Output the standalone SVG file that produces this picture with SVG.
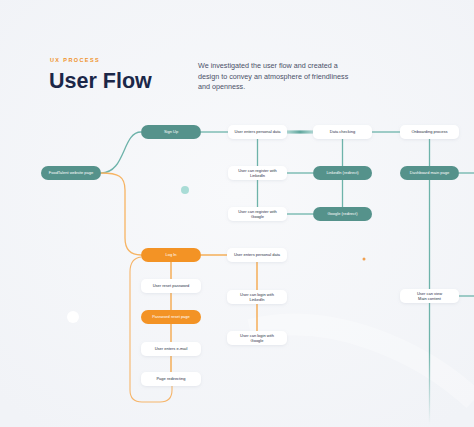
<svg xmlns="http://www.w3.org/2000/svg" width="474" height="427" viewBox="0 0 474 427">
<defs>
<radialGradient id="bg" cx="0.5" cy="0.45" r="0.7">
<stop offset="0" stop-color="#f8f9fb"/>
<stop offset="1" stop-color="#f1f3f7"/>
</radialGradient>
<linearGradient id="fadeDown" gradientUnits="userSpaceOnUse" x1="0" y1="180" x2="0" y2="424">
<stop offset="0" stop-color="#6db3aa"/>
<stop offset="0.7" stop-color="#6db3aa"/>
<stop offset="1" stop-color="#6db3aa" stop-opacity="0"/>
</linearGradient>
<linearGradient id="thick" gradientUnits="userSpaceOnUse" x1="287" y1="0" x2="313" y2="0">
<stop offset="0" stop-color="#8cc6be" stop-opacity="0.7"/>
<stop offset="0.5" stop-color="#5fa69d"/>
<stop offset="1" stop-color="#8cc6be" stop-opacity="0.7"/>
</linearGradient>
<filter id="sh" x="-30%" y="-60%" width="160%" height="220%">
<feDropShadow dx="0" dy="1" stdDeviation="1.6" flood-color="#8a93a8" flood-opacity="0.16"/>
</filter>
<style>
.t{font-family:"Liberation Sans",Arial,sans-serif;text-anchor:middle;font-size:4px}
.w{fill:#ffffff}
.d{fill:#2a2f45}
.teal{fill:#55928b}
.or{fill:#f39325}
.box{fill:#ffffff;filter:url(#sh)}
.tc{stroke:#6db3aa;stroke-width:1.3;fill:none}
.oc{stroke:#f5a23f;stroke-width:1.3;fill:none}
</style>
</defs>
<rect width="474" height="427" fill="url(#bg)"/>
<path d="M250,330 C330,310 420,350 474,400" stroke="#ffffff" stroke-width="22" fill="none" opacity="0.3"/>

<text x="50" y="62" font-family="Liberation Sans,Arial,sans-serif" font-size="5.5" font-weight="bold" letter-spacing="1.4" fill="#f0922b">UX PROCESS</text>
<text x="49" y="88" font-family="Liberation Sans,Arial,sans-serif" font-size="21.5" font-weight="bold" fill="#1b2748">User Flow</text>
<g font-family="Liberation Sans,Arial,sans-serif" font-size="7.2" fill="#4a5068">
<text x="198" y="68">We investigated the user flow and created a</text>
<text x="198" y="78.5">design to convey an atmosphere of friendliness</text>
<text x="198" y="89">and openness.</text>
</g>

<circle cx="185" cy="190" r="4" fill="#a9dcd6"/>
<circle cx="364" cy="259" r="1.5" fill="#f0a050"/>
<circle cx="73" cy="317" r="6" fill="#ffffff"/>

<g id="connectors">
<path class="tc" d="M101,173 C126,173 122,132 141,132"/>
<path d="M101,173 C118,173 125,176 125,190 V238 C125,250 131,255 141,255" stroke="#f7b463" stroke-width="1.3" fill="none"/>
<line class="tc" x1="201" y1="132" x2="228" y2="132"/>
<line x1="287" y1="132" x2="313" y2="132" stroke="url(#thick)" stroke-width="3.2"/>
<line class="tc" x1="372" y1="132" x2="400" y2="132"/>
<line class="tc" x1="257.5" y1="139" x2="257.5" y2="166"/>
<line class="tc" x1="257.5" y1="180" x2="257.5" y2="207"/>
<line class="tc" x1="342.5" y1="139" x2="342.5" y2="166"/>
<line class="tc" x1="342.5" y1="180" x2="342.5" y2="207"/>
<line class="tc" x1="287" y1="173" x2="313" y2="173"/>
<line class="tc" x1="287" y1="214" x2="313" y2="214"/>
<line class="tc" x1="429.5" y1="139" x2="429.5" y2="166"/>
<line class="tc" x1="459" y1="173" x2="474" y2="173"/>
<line x1="429.5" y1="180" x2="429.5" y2="424" stroke="url(#fadeDown)" stroke-width="1.3"/>
<line class="tc" x1="459" y1="296" x2="474" y2="296"/>
<line class="oc" x1="201" y1="255" x2="227" y2="255"/>
<line class="oc" x1="257" y1="262" x2="257" y2="290"/>
<line class="oc" x1="257" y1="304" x2="257" y2="331"/>
<line class="oc" x1="171" y1="262" x2="171" y2="372"/>
<path d="M141,257 C133,258 130,263 130,272 V390 Q130,402 142,402 H160 Q172,402 172,390 V386" stroke="#f6b56a" stroke-width="1.1" fill="none"/>
</g>

<g id="n-foodtalent"><rect class="teal" x="41" y="166" width="60" height="14" rx="7"/><text class="t w" x="71" y="174.4">FoodTalent website page</text></g>
<g id="n-signup"><rect class="teal" x="141" y="125" width="60" height="14" rx="7"/><text class="t w" x="171" y="133.4">Sign Up</text></g>
<g id="n-su-data"><rect class="box" x="228" y="125" width="59" height="14" rx="5"/><text class="t d" x="257.5" y="133.4">User enters personal data</text></g>
<g id="n-datacheck"><rect class="box" x="313" y="125" width="59" height="14" rx="5"/><text class="t d" x="342.5" y="133.4">Data checking</text></g>
<g id="n-onboarding"><rect class="box" x="400" y="125" width="59" height="14" rx="5"/><text class="t d" x="429.5" y="133.4">Onboarding process</text></g>
<g id="n-reg-linkedin"><rect class="box" x="228" y="166" width="59" height="14" rx="5"/><text class="t d" x="257.5" y="172">User can register with</text><text class="t d" x="257.5" y="177">LinkedIn</text></g>
<g id="n-linkedin-redirect"><rect class="teal" x="313" y="166" width="59" height="14" rx="7"/><text class="t w" x="342.5" y="174.4">LinkedIn (redirect)</text></g>
<g id="n-dashboard"><rect class="teal" x="400" y="166" width="59" height="14" rx="7"/><text class="t w" x="429.5" y="174.4">Dashboard main page</text></g>
<g id="n-reg-google"><rect class="box" x="228" y="207" width="59" height="14" rx="5"/><text class="t d" x="257.5" y="213">User can register with</text><text class="t d" x="257.5" y="218">Google</text></g>
<g id="n-google-redirect"><rect class="teal" x="313" y="207" width="59" height="14" rx="7"/><text class="t w" x="342.5" y="215.4">Google (redirect)</text></g>
<g id="n-main-content"><rect class="box" x="400" y="289" width="59" height="14" rx="5"/><text class="t d" x="429.5" y="295">User can view</text><text class="t d" x="429.5" y="300">Main content</text></g>

<g id="n-login"><rect class="or" x="141" y="248" width="60" height="14" rx="7"/><text class="t w" x="171" y="256.4">Log In</text></g>
<g id="n-reset"><rect class="box" x="141" y="279" width="60" height="14" rx="5"/><text class="t d" x="171" y="287.4">User reset password</text></g>
<g id="n-reset-page"><rect class="or" x="141" y="310" width="60" height="14" rx="7"/><text class="t w" x="171" y="318.4">Password reset page</text></g>
<g id="n-email"><rect class="box" x="141" y="342" width="60" height="14" rx="5"/><text class="t d" x="171" y="350.4">User enters e-mail</text></g>
<g id="n-redirecting"><rect class="box" x="141" y="372" width="60" height="14" rx="5"/><text class="t d" x="171" y="380.4">Page redirecting</text></g>
<g id="n-li-data"><rect class="box" x="227" y="248" width="60" height="14" rx="5"/><text class="t d" x="257" y="256.4">User enters personal data</text></g>
<g id="n-login-linkedin"><rect class="box" x="227" y="290" width="60" height="14" rx="5"/><text class="t d" x="257" y="296">User can login with</text><text class="t d" x="257" y="301">LinkedIn</text></g>
<g id="n-login-google"><rect class="box" x="227" y="331" width="60" height="14" rx="5"/><text class="t d" x="257" y="337">User can login with</text><text class="t d" x="257" y="342">Google</text></g>
</svg>
